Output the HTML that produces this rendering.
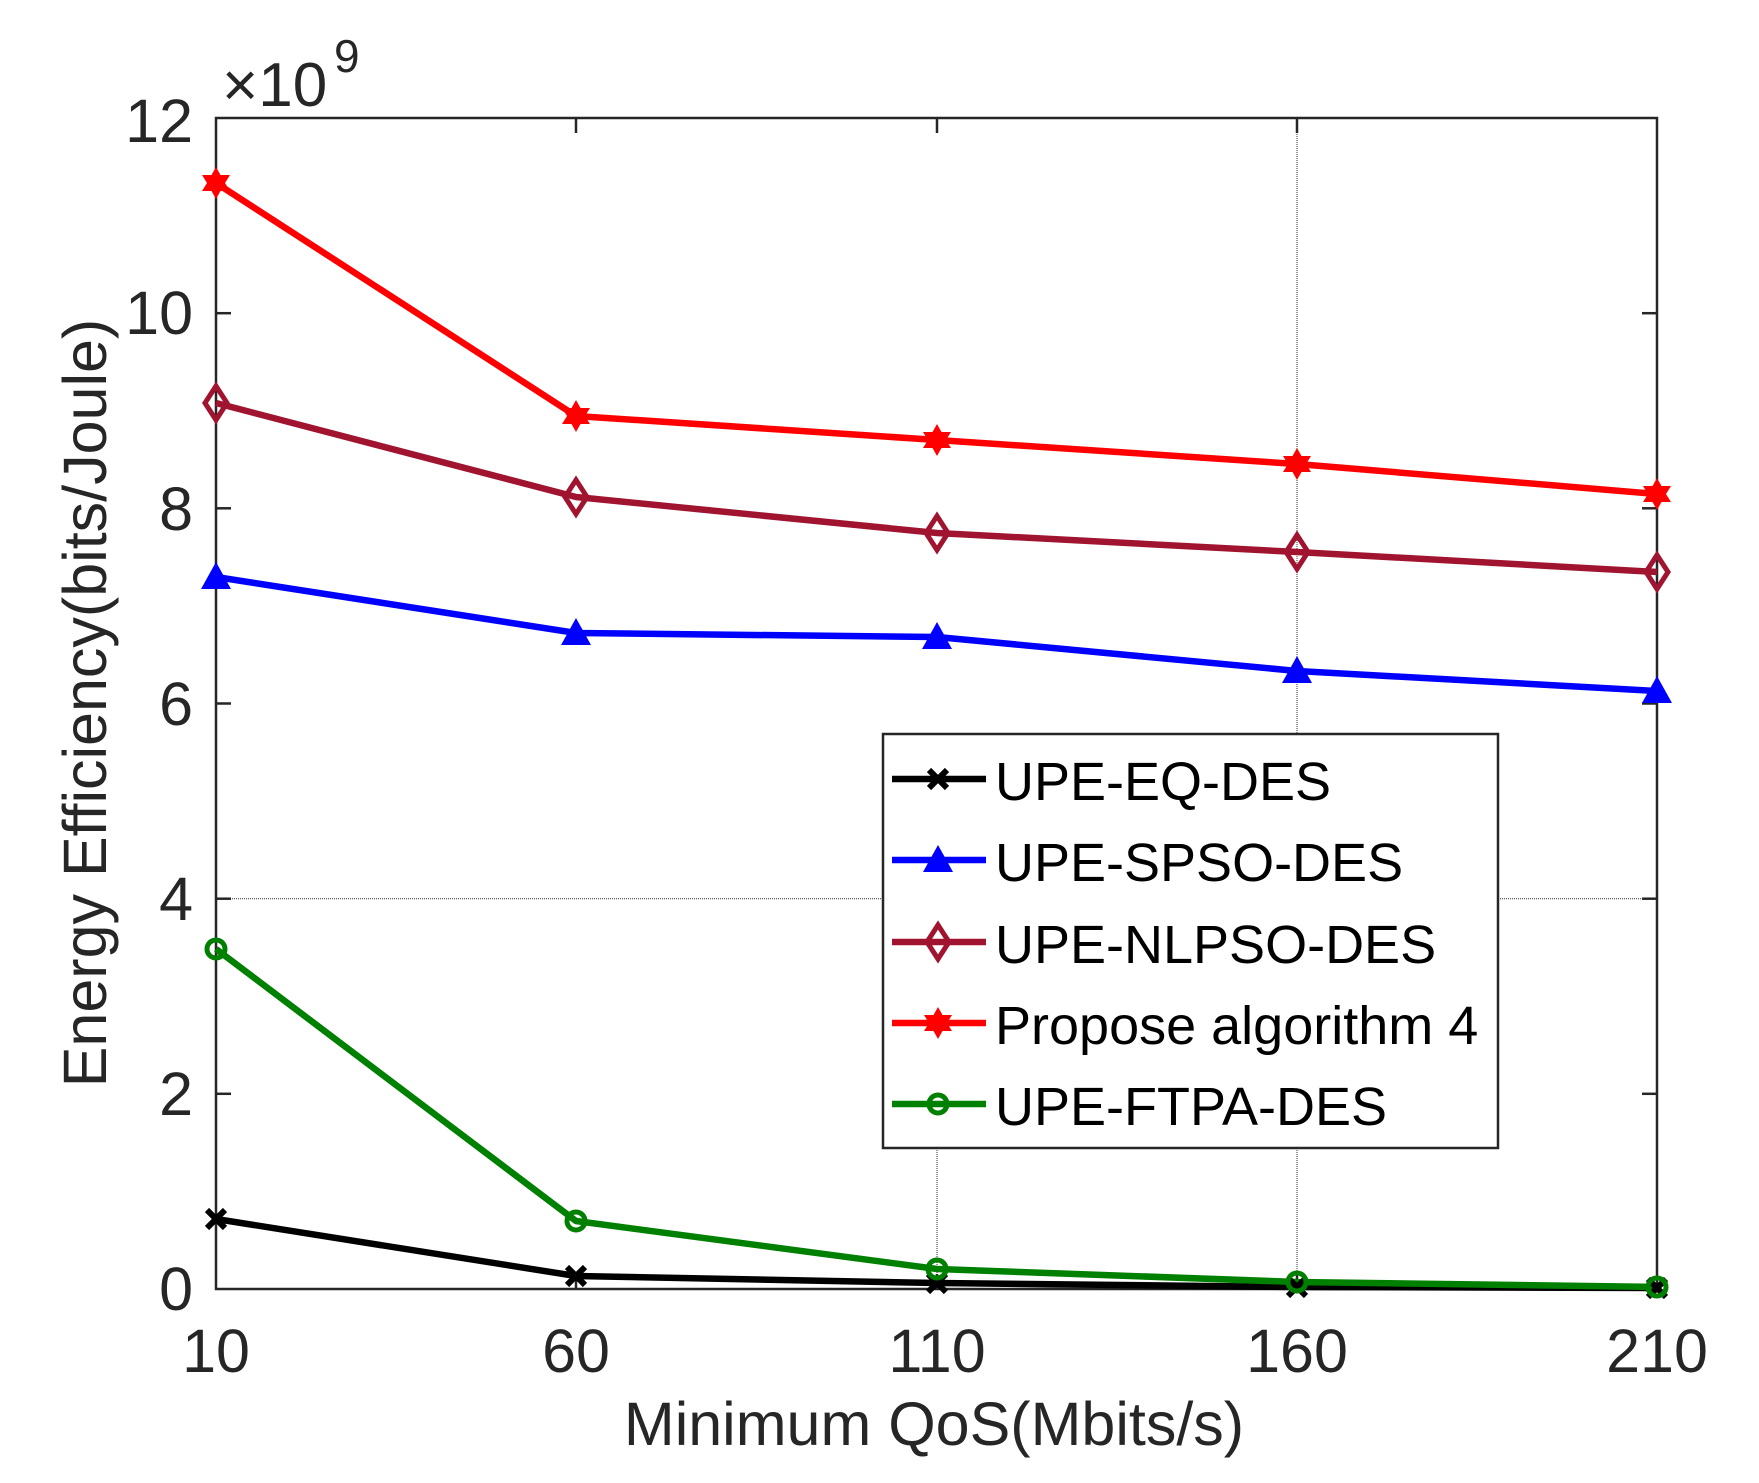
<!DOCTYPE html>
<html><head><meta charset="utf-8"><style>html,body{margin:0;padding:0;background:#fff}svg{display:block}</style></head>
<body>
<svg width="1759" height="1483" viewBox="0 0 1759 1483" xmlns="http://www.w3.org/2000/svg" font-family="Liberation Sans, Arial, sans-serif">
<rect width="1759" height="1483" fill="#fff"/>
<g stroke="#333" stroke-width="1" stroke-dasharray="1,1">
<line x1="1297" y1="118" x2="1297" y2="1289"/>
<line x1="937" y1="1148" x2="937" y2="1289"/>
<line x1="216" y1="898.7" x2="1657" y2="898.7"/>
</g>
<rect x="216" y="118" width="1441" height="1171" fill="none" stroke="#262626" stroke-width="2.5"/>
<g stroke="#262626" stroke-width="2.5">
<line x1="216" y1="1093.8" x2="231" y2="1093.8"/><line x1="1657" y1="1093.8" x2="1642" y2="1093.8"/>
<line x1="216" y1="898.7" x2="231" y2="898.7"/><line x1="1657" y1="898.7" x2="1642" y2="898.7"/>
<line x1="216" y1="703.5" x2="231" y2="703.5"/><line x1="1657" y1="703.5" x2="1642" y2="703.5"/>
<line x1="216" y1="508.3" x2="231" y2="508.3"/><line x1="1657" y1="508.3" x2="1642" y2="508.3"/>
<line x1="216" y1="313.2" x2="231" y2="313.2"/><line x1="1657" y1="313.2" x2="1642" y2="313.2"/>
<line x1="576" y1="1289" x2="576" y2="1274"/><line x1="576" y1="118" x2="576" y2="133"/>
<line x1="937" y1="1289" x2="937" y2="1274"/><line x1="937" y1="118" x2="937" y2="133"/>
<line x1="1297" y1="1289" x2="1297" y2="1274"/><line x1="1297" y1="118" x2="1297" y2="133"/>
</g>
<g fill="#262626" font-size="61" text-anchor="end">
<text x="193" y="1310">0</text>
<text x="193" y="1115">2</text>
<text x="193" y="920">4</text>
<text x="193" y="725">6</text>
<text x="193" y="530">8</text>
<text x="193" y="334">10</text>
<text x="193" y="142">12</text>
</g>
<g fill="#262626" font-size="61" text-anchor="middle">
<text x="216" y="1372">10</text>
<text x="576" y="1372">60</text>
<text x="937" y="1372">110</text>
<text x="1297" y="1372">160</text>
<text x="1657" y="1372">210</text>
<text x="934" y="1445">Minimum QoS(Mbits/s)</text>
<text transform="translate(106,703) rotate(-90)">Energy Efficiency(bits/Joule)</text>
</g>
<text x="222" y="106" fill="#262626" font-size="62">×10</text>
<text x="334" y="72" fill="#262626" font-size="46">9</text>
<g fill="none" stroke-width="6.5" stroke-linejoin="round">
<polyline stroke="#000" points="216,1219 576,1276 937,1283 1297,1287 1657,1288"/>
<polyline stroke="#008000" points="216,949 576,1221 937,1269 1297,1282 1657,1287"/>
<polyline stroke="#0000ff" points="216,577 576,633 937,637 1297,671 1657,691"/>
<polyline stroke="#a01430" points="216,403 576,497 937,533 1297,552 1657,572"/>
<polyline stroke="#ff0000" points="216,183 576,416 937,440 1297,464 1657,494"/>
</g>
<defs>
<g id="mx"><path d="M-9,-9 L9,9 M-9,9 L9,-9" stroke="#000" stroke-width="6"/></g>
<g id="mc"><circle r="9" fill="none" stroke="#008000" stroke-width="5"/></g>
<g id="mt"><polygon points="0,-15 15,12 -15,12" fill="#0000ff"/></g>
<g id="md"><polygon points="0,-17 11,0 0,17 -11,0" fill="none" stroke="#a01430" stroke-width="5"/></g>
<g id="ms"><polygon points="0,-16 4.5,-8 14,-8 9,0 14,8 4.5,8 0,16 -4.5,8 -14,8 -9,0 -14,-8 -4.5,-8" fill="#ff0000"/></g>
</defs>
<use href="#mx" x="216" y="1219"/><use href="#mx" x="576" y="1276"/><use href="#mx" x="937" y="1283"/><use href="#mx" x="1297" y="1287"/><use href="#mx" x="1657" y="1288"/>
<use href="#mc" x="216" y="949"/><use href="#mc" x="576" y="1221"/><use href="#mc" x="937" y="1269"/><use href="#mc" x="1297" y="1282"/><use href="#mc" x="1657" y="1287"/>
<use href="#mt" x="216" y="577"/><use href="#mt" x="576" y="633"/><use href="#mt" x="937" y="637"/><use href="#mt" x="1297" y="671"/><use href="#mt" x="1657" y="691"/>
<use href="#md" x="216" y="403"/><use href="#md" x="576" y="497"/><use href="#md" x="937" y="533"/><use href="#md" x="1297" y="552"/><use href="#md" x="1657" y="572"/>
<use href="#ms" x="216" y="183"/><use href="#ms" x="576" y="416"/><use href="#ms" x="937" y="440"/><use href="#ms" x="1297" y="464"/><use href="#ms" x="1657" y="494"/>
<rect x="883" y="734" width="615" height="414" fill="#fff" stroke="#262626" stroke-width="2.5"/>
<g stroke-width="6.5">
<line x1="892" y1="779" x2="986" y2="779" stroke="#000"/>
<line x1="892" y1="860" x2="986" y2="860" stroke="#0000ff"/>
<line x1="892" y1="942" x2="986" y2="942" stroke="#a01430"/>
<line x1="892" y1="1023" x2="986" y2="1023" stroke="#ff0000"/>
<line x1="892" y1="1104" x2="986" y2="1104" stroke="#008000"/>
</g>
<use href="#mx" x="938" y="779"/><use href="#mt" x="938" y="860"/><use href="#md" x="938" y="942"/><use href="#ms" x="938" y="1023"/><use href="#mc" x="938" y="1104"/>
<g fill="#000" font-size="54">
<text x="995" y="800">UPE-EQ-DES</text>
<text x="995" y="881">UPE-SPSO-DES</text>
<text x="995" y="963">UPE-NLPSO-DES</text>
<text x="995" y="1044">Propose algorithm 4</text>
<text x="995" y="1125">UPE-FTPA-DES</text>
</g>
</svg>
</body></html>
